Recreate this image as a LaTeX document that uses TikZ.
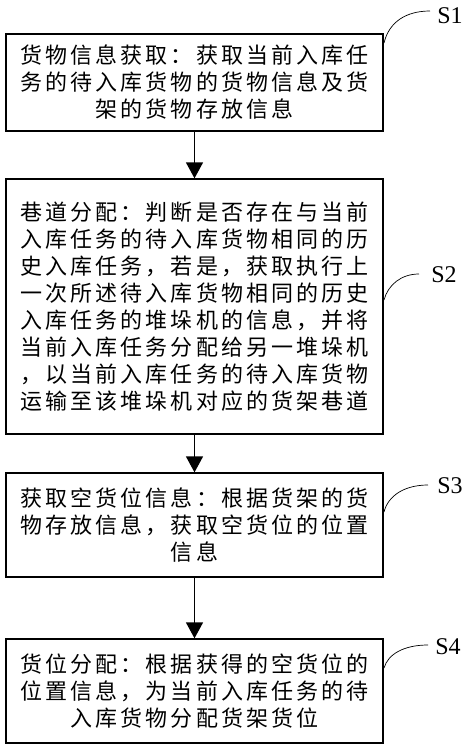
\documentclass[tikz,border=0pt]{standalone}
\usepackage{fontspec}
\newfontfamily\cjk[LetterSpace=14]{Noto Sans CJK SC}
\newfontfamily\lab{Liberation Serif}
\usetikzlibrary{arrows.meta}
\begin{document}
\begin{tikzpicture}[x=1pt,y=-1pt,
  stepbox/.style={draw,line width=1.3pt,rectangle,minimum width=377pt,inner sep=0pt,align=center,
    font=\cjk\fontsize{22}{27}\selectfont},
  flow/.style={line width=1.4pt,-{Triangle[width=17pt,length=16pt]}},
  tag/.style={font=\lab\fontsize{24}{24}\selectfont},
  lead/.style={line width=0.7pt}]
\useasboundingbox (0,0) rectangle (474,749);
\node[stepbox,minimum height=97pt] (b1) at (194.5,82.5) {货物信息获取：获取当前入库任\\务的待入库货物的货物信息及货\\架的货物存放信息};
\node[stepbox,minimum height=255pt] (b2) at (194.5,306.5) {巷道分配：判断是否存在与当前\\入库任务的待入库货物相同的历\\史入库任务，若是，获取执行上\\一次所述待入库货物相同的历史\\入库任务的堆垛机的信息，并将\\当前入库任务分配给另一堆垛机\\，以当前入库任务的待入库货物\\运输至该堆垛机对应的货架巷道};
\node[stepbox,minimum height=104pt] (b3) at (194.5,525) {获取空货位信息：根据货架的货\\物存放信息，获取空货位的位置\\信息};
\node[stepbox,minimum height=104pt] (b4) at (194.5,691) {货位分配：根据获得的空货位的\\位置信息，为当前入库任务的待\\入库货物分配货架货位};
\draw[flow] (b1) -- (b2);
\draw[flow] (b2) -- (b3);
\draw[flow] (b3) -- (b4);
\node[tag] (l1) at (450,16) {S1};
\node[tag] (l2) at (444,275) {S2};
\node[tag] (l3) at (450,486) {S3};
\node[tag] (l4) at (448,647) {S4};
\coordinate (c1) at (384,43);
\coordinate (c2) at (384,300);
\coordinate (c3) at (384,512);
\coordinate (c4) at (384,668);
\coordinate (e1) at (430,11);
\coordinate (e2) at (419,274);
\coordinate (e3) at (428,485);
\coordinate (e4) at (428,645);
\draw[lead] (c1) .. controls (389,22) and (406,11) .. (e1);
\draw[lead] (c2) .. controls (388,285) and (401,274) .. (e2);
\draw[lead] (c3) .. controls (388,496) and (404,485) .. (e3);
\draw[lead] (c4) .. controls (388,654) and (404,645) .. (e4);
\end{tikzpicture}
\end{document}
